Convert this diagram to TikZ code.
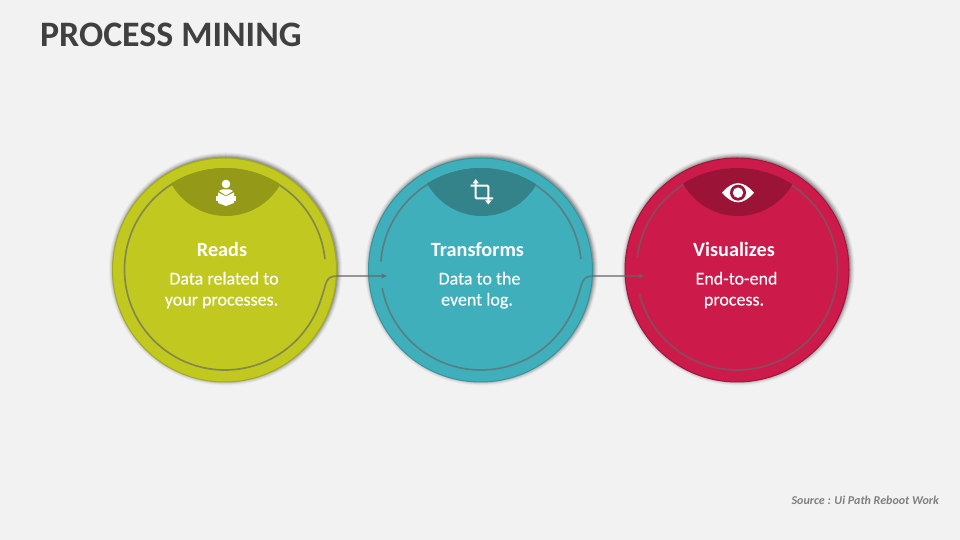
\documentclass[tikz,border=0pt]{standalone}
\usepackage{fontspec}
\setmainfont{Carlito}
\newfontfamily\semibold[FakeBold=0.2]{Carlito}
\usetikzlibrary{arrows.meta}
\definecolor{bgc}{HTML}{F2F2F2}
\definecolor{oli}{HTML}{C1C920}
\definecolor{oliD}{HTML}{949A17}
\definecolor{oliB}{HTML}{A3AA1B}
\definecolor{tea}{HTML}{3FB0BB}
\definecolor{teaD}{HTML}{34828A}
\definecolor{teaB}{HTML}{35949D}
\definecolor{cri}{HTML}{CC1A4A}
\definecolor{criD}{HTML}{9C1338}
\definecolor{criB}{HTML}{A3143B}
\definecolor{ttl}{HTML}{404040}
\definecolor{srcc}{HTML}{7F7F7F}
\newcommand{\topstrut}{\rule{0pt}{13pt}}
\newcommand{\botstrut}{\rule[-4pt]{0pt}{4pt}}
\tikzset{
  x=1pt,y=1pt,
  bubble/.style={circle,inner sep=0pt,minimum size=224pt,line width=1pt},
  ringline/.style={draw=black!60,draw opacity=.65,line width=1.7pt},
  heading/.style={text=white,font=\fontsize{20.2}{22}\selectfont\bfseries,inner sep=0pt},
  body/.style={text=white,font=\semibold\fontsize{18}{21}\selectfont,align=center,inner sep=0pt},
  icon/.style={fill=white,draw=none},
  iconline/.style={draw=white,line width=2pt,rounded corners=1pt},
  tiparrow/.style={-{Stealth[length=6pt,width=5.5pt]}}
}
\newcommand{\softshadow}[2]{%
  \foreach \r/\o in {116.5/.04,115.5/.06,114.5/.08,113.5/.11,112.5/.15}{\fill[black,opacity=\o] (#1+1,#2+1) circle[radius=\r];}}
\newcommand{\lens}[3]{%
  \begin{scope}
    \clip (#1,270.5) circle[radius=101.5];
    \fill[#3] (#2,386.5) circle[radius=62.5];
  \end{scope}}
\begin{document}
\begin{tikzpicture}
\useasboundingbox (0,0) rectangle (960,540);
\fill[bgc] (0,0) rectangle (960,540);
\node[anchor=west,text=ttl,font=\fontsize{35.8}{40}\selectfont\bfseries,inner sep=0pt] (title) at (40,505) {PROCESS MINING};
\softshadow{224.5}{270}\softshadow{480.5}{270}\softshadow{737}{270}
\node[bubble,fill=oli,draw=oliB] (c1) at (224.5,270) {};
\node[bubble,fill=tea,draw=teaB] (c2) at (480.5,270) {};
\node[bubble,fill=cri,draw=criB] (c3) at (737,270) {};
% rings and connectors
\coordinate (tip1) at (387,264);
\coordinate (tip2) at (644,264);
\draw[ringline,tiparrow] ([shift={(6:100.5)}]225,270.5) arc[start angle=6,end angle=343,radius=100.5]
  .. controls (327,258) and (325,264) .. (338,264) -- (tip1);
\draw[ringline] ([shift={(175.5:100.5)}]481,270.5) arc[start angle=175.5,end angle=6,radius=100.5];
\draw[ringline,tiparrow] ([shift={(190.6:100.5)}]481,270.5) arc[start angle=190.6,end angle=343,radius=100.5]
  .. controls (583,258) and (581,264) .. (594,264) -- (tip2);
\draw[ringline] ([shift={(173:100.5)}]737,270.5) arc[start angle=173,end angle=-166,radius=100.5];
% caps
\lens{225}{226}{oliD}
\lens{481}{482}{teaD}
\lens{737}{738}{criD}
% reader icon
\fill[icon] (226,356) circle[radius=4.3];
\fill[icon] (219,349) -- (222,350.5) -- (230,350.5) -- (233,349) -- (226,344.5) -- cycle;
\fill[icon] (218,347.5) -- (226,343.5) -- (234,347.5) -- (234,337) -- (226,334) -- (218,337) -- cycle;
\fill[icon] (216.3,344) rectangle (218.3,339);
\fill[icon] (233.7,344) rectangle (235.7,339);
% crop icon
\draw[iconline] (475.7,358) -- (475.7,341.7) -- (493,341.7);
\draw[iconline] (470.7,354.3) -- (488.3,354.3) -- (488.3,338);
\fill[icon] (472.5,356.5) -- (478.9,356.5) -- (475.7,361) -- cycle;
\fill[icon] (485.1,339.5) -- (491.5,339.5) -- (488.3,335.5) -- cycle;
% eye icon
\fill[icon] (722,347.3) .. controls (733,360) and (743,360) .. (754,347.3)
  .. controls (743,334.5) and (733,334.5) .. (722,347.3) -- cycle;
\fill[criD] (738,347.3) circle[radius=8];
\fill[white] (738,347.3) circle[radius=5.2];
% labels
\node[heading] (h1) at (222,290.5) {Reads};
\node[body] (b1) at (221.5,249.5) {\topstrut\hspace*{5pt}Data related to\\your processes.\botstrut};
\node[heading] (h2) at (477.5,290.5) {Transforms};
\node[body] (b2) at (477,249.5) {\topstrut\hspace*{5pt}Data to the\\event log.\botstrut};
\node[heading] (h3) at (734,290.5) {Visualizes};
\node[body] (b3) at (734,249.5) {\topstrut\hspace*{5pt}End-to-end\\process.\botstrut};
\node[anchor=east,text=srcc,font=\fontsize{12}{14}\selectfont\bfseries\itshape,inner sep=0pt] (src) at (939,40) {Source : Ui Path Reboot Work};
\end{tikzpicture}
\end{document}
